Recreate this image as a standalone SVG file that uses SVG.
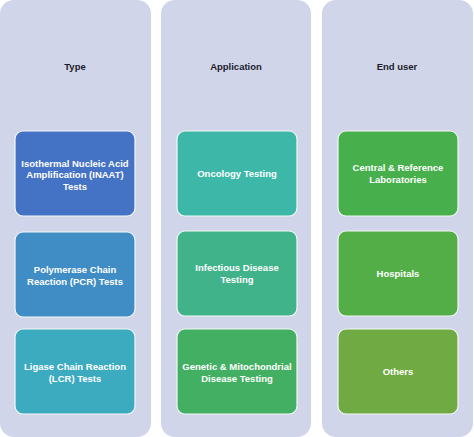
<svg xmlns="http://www.w3.org/2000/svg" width="474" height="437" viewBox="0 0 474 437">
<style>
.panel{fill:#d0d5ea}
.box{stroke:#f2f8f4;stroke-width:1.2}
.hdr{font-family:"Liberation Sans",Arial,sans-serif;font-size:9.5px;font-weight:bold;fill:#1c1c2a;text-anchor:middle}
.lbl{font-family:"Liberation Sans",Arial,sans-serif;font-size:9.5px;font-weight:bold;fill:#ffffff;text-anchor:middle}
</style>
<rect width="474" height="437" fill="#ffffff"/>
<g id="col-type">
<rect class="panel" x="0" y="0" width="151" height="437" rx="14"/>
<text class="hdr" x="75" y="69.5">Type</text>
</g>
<g id="col-application">
<rect class="panel" x="161" y="0" width="150" height="437" rx="14"/>
<text class="hdr" x="236" y="69.5">Application</text>
</g>
<g id="col-enduser">
<rect class="panel" x="322" y="0" width="151" height="437" rx="14"/>
<text class="hdr" x="397" y="69.5">End user</text>
</g>
<g id="inaat">
<rect class="box" x="15" y="131" width="120" height="85" rx="8" fill="#4472c4"/>
<text class="lbl" x="75" y="166.5">Isothermal Nucleic Acid</text>
<text class="lbl" x="75" y="178">Amplification (INAAT)</text>
<text class="lbl" x="75" y="189.5">Tests</text>
</g>
<g id="pcr">
<rect class="box" x="15" y="232" width="120" height="85" rx="8" fill="#408cc4"/>
<text class="lbl" x="75" y="273">Polymerase Chain</text>
<text class="lbl" x="75" y="284.5">Reaction (PCR) Tests</text>
</g>
<g id="lcr">
<rect class="box" x="15" y="329" width="120" height="85" rx="8" fill="#3caabf"/>
<text class="lbl" x="75" y="370">Ligase Chain Reaction</text>
<text class="lbl" x="75" y="381.5">(LCR) Tests</text>
</g>
<g id="oncology">
<rect class="box" x="177" y="131" width="120" height="85" rx="8" fill="#3db8a8"/>
<text class="lbl" x="237" y="177">Oncology Testing</text>
</g>
<g id="infectious">
<rect class="box" x="177" y="231" width="120" height="85" rx="8" fill="#40b38b"/>
<text class="lbl" x="237" y="271">Infectious Disease</text>
<text class="lbl" x="237" y="282.5">Testing</text>
</g>
<g id="genetic">
<rect class="box" x="177" y="329" width="120" height="85" rx="8" fill="#43af62"/>
<text class="lbl" x="237" y="370">Genetic &amp; Mitochondrial</text>
<text class="lbl" x="237" y="381.5">Disease Testing</text>
</g>
<g id="central">
<rect class="box" x="338" y="131" width="120" height="85" rx="8" fill="#47b04c"/>
<text class="lbl" x="398" y="171">Central &amp; Reference</text>
<text class="lbl" x="398" y="182.5">Laboratories</text>
</g>
<g id="hospitals">
<rect class="box" x="338" y="231" width="120" height="85" rx="8" fill="#53ae47"/>
<text class="lbl" x="398" y="276.5">Hospitals</text>
</g>
<g id="others">
<rect class="box" x="338" y="329" width="120" height="85" rx="8" fill="#6faa42"/>
<text class="lbl" x="398" y="374.5">Others</text>
</g>
<g id="connectors"></g>
</svg>
